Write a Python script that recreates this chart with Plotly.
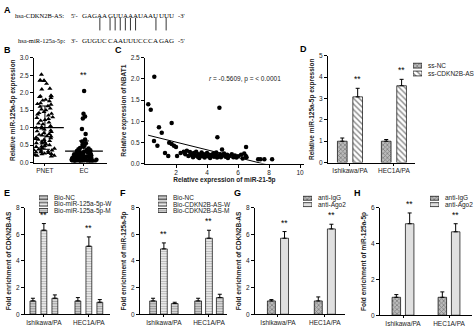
import plotly.graph_objects as go

W, H = 474, 329
FONT = "Liberation Sans"
SERIF = "Liberation Serif"

def fx(p):
    return p / W

def fy(p):
    return 1 - p / H

# ---------------- data ----------------
seq_target = "GAGAAGUUAAAUAAUUUU"
seq_mirna = "GUGUCCAAUUUCCCAGAG"
pair_idx = [3, 5, 6, 7, 8, 9, 10, 14, 16]

b_groups = ["PNET", "EC"]
b_pnet = [2.52, 2.36, 2.35, 2.35, 2.34, 2.26, 2.12, 2.10, 1.92, 1.90, 1.90, 1.88, 1.85,
          1.80, 1.78, 1.76, 1.70, 1.68, 1.66, 1.62, 1.60, 1.55, 1.52, 1.50, 1.45, 1.42,
          1.40, 1.38, 1.35, 1.30, 1.28, 1.25, 1.22, 1.20, 1.15, 1.12, 1.10, 1.05, 1.02,
          1.00, 0.98, 0.95, 0.92, 0.90, 0.88, 0.85, 0.82, 0.80, 0.78, 0.76, 0.75, 0.72,
          0.70, 0.68, 0.66, 0.65, 0.62, 0.60, 0.58, 0.56, 0.55, 0.52, 0.50, 0.48, 0.46,
          0.45, 0.42, 0.40, 0.38, 0.36, 0.35, 0.34, 0.32, 0.30, 0.30, 0.28, 0.26, 0.25,
          0.24, 0.22, 0.20, 0.20, 0.18]
b_ec = [2.05, 1.40, 1.32, 1.26, 0.96, 0.82, 0.66, 0.60, 0.55, 0.50, 0.48, 0.45, 0.42,
        0.40, 0.38, 0.36, 0.35, 0.33, 0.32, 0.30, 0.30, 0.28, 0.27, 0.26, 0.25, 0.25,
        0.24, 0.23, 0.22, 0.22, 0.21, 0.20, 0.20, 0.19, 0.18, 0.18, 0.17, 0.16, 0.16,
        0.15, 0.15, 0.14, 0.14, 0.13, 0.13, 0.12, 0.12, 0.11, 0.11, 0.10, 0.10, 0.10,
        0.09, 0.09, 0.08, 0.08, 0.07, 0.07, 0.06, 0.06, 0.05, 0.05, 0.04, 0.04, 0.03,
        0.03, 0.02, 0.02, 0.01, 0.01]
b_mean = [1.00, 0.33]
b_sd = [0.62, 0.29]

c_x = [0.21, 0.37, 0.60, 0.90, 1.08, 0.58, 0.80, 1.72, 1.56, 1.72, 1.87, 2.00, 1.29,
       1.50, 2.07, 4.80, 4.67, 6.52, 4.97, 7.30, 7.45, 7.70, 8.20,
       2.30, 2.50, 2.60, 2.70, 2.80, 2.90, 3.00, 3.10, 3.15, 3.25, 3.30, 3.40, 3.45,
       3.50, 3.60, 3.65, 3.70, 3.80, 3.85, 3.90, 4.00, 4.05, 4.15, 4.20, 4.30, 4.40,
       4.45, 4.55, 4.60, 4.65, 4.75, 4.85, 4.90, 5.00, 5.10, 5.20, 5.30, 5.35, 5.45,
       5.60, 5.70, 5.80, 5.90, 6.00, 6.20, 6.30, 6.40, 6.50, 6.55]
c_y = [1.40, 1.27, 2.05, 0.86, 0.73, 0.53, 0.42, 0.96, 0.49, 0.46, 0.42, 0.39, 0.25,
       0.18, 0.18, 1.32, 0.62, 0.39, 0.33, 0.10, 0.10, 0.10, 0.10,
       0.25, 0.28, 0.22, 0.30, 0.18, 0.27, 0.20, 0.15, 0.25, 0.19, 0.28, 0.16, 0.22,
       0.13, 0.20, 0.26, 0.17, 0.22, 0.14, 0.19, 0.25, 0.17, 0.21, 0.13, 0.19, 0.24,
       0.16, 0.20, 0.26, 0.14, 0.18, 0.22, 0.15, 0.19, 0.24, 0.16, 0.21, 0.13, 0.18,
       0.22, 0.15, 0.19, 0.14, 0.17, 0.21, 0.12, 0.24, 0.18, 0.15]
c_fit_x = [0.2, 8.0]
c_fit_y = [0.67, -0.04]
c_xticks = [2, 4, 6, 8, 10]

cells = ["Ishikawa/PA", "HEC1A/PA"]
d_nc, d_nc_err = [1.0, 1.0], [0.15, 0.08]
d_ss, d_ss_err = [3.08, 3.60], [0.40, 0.30]
e_nc, e_nc_err = [1.0, 1.0], [0.20, 0.25]
e_w, e_w_err = [6.30, 5.10], [0.50, 0.70]
e_m, e_m_err = [1.20, 0.90], [0.25, 0.20]
f_nc, f_nc_err = [1.0, 1.0], [0.20, 0.20]
f_w, f_w_err = [4.90, 5.70], [0.45, 0.60]
f_m, f_m_err = [0.80, 1.25], [0.10, 0.25]
g_igg, g_igg_err = [1.0, 1.0], [0.10, 0.30]
g_ago, g_ago_err = [5.70, 6.40], [0.50, 0.35]
h_igg, h_igg_err = [1.0, 1.0], [0.15, 0.30]
h_ago, h_ago_err = [5.10, 4.65], [0.60, 0.45]

# ---------------- styles ----------------
PAT_CHECK = dict(shape="x", fgcolor="#444", bgcolor="#bbb", size=3, solidity=0.45)
PAT_DIAG = dict(shape="\\", fgcolor="#111", bgcolor="white", size=4, solidity=0.35)
PAT_H1 = dict(shape="-", fgcolor="#444", bgcolor="#d8d8d8", size=2.5, solidity=0.45)
PAT_H2 = dict(shape="-", fgcolor="#777", bgcolor="#eeeeee", size=2.5, solidity=0.4)
PAT_H3 = dict(shape="-", fgcolor="#555", bgcolor="#e2e2e2", size=2.5, solidity=0.45)
PAT_LIGHT = dict(shape="-", fgcolor="#c8c8c8", bgcolor="#e4e4e4", size=2, solidity=0.3)

TICKF = dict(size=6.5, family=FONT, color="#222")
TITLEF = dict(size=6.5, family=FONT, color="#222", weight="bold")

fig = go.Figure()
annotations = []
shapes = []
layout = {}


def axstyle(**kw):
    d = dict(showline=True, linecolor="black", linewidth=1, ticks="outside", ticklen=3,
             tickwidth=1, tickcolor="black", showgrid=False, zeroline=False,
             tickfont=TICKF, ticklabeloverflow="allow")
    d.update(kw)
    return d


def ytitle(t, standoff=3):
    return dict(text=t, font=TITLEF, standoff=standoff)


def panel_label(letter, x, y):
    annotations.append(dict(text="<b>%s</b>" % letter, x=fx(x), y=fy(y), xref="paper",
                            yref="paper", showarrow=False, xanchor="left", yanchor="middle",
                            font=dict(size=9, family=FONT, color="black")))


def set_axes(n, xdom, ydom, xkw, ykw):
    xs = "xaxis" if n == 1 else "xaxis%d" % n
    ys = "yaxis" if n == 1 else "yaxis%d" % n
    yid = "y" if n == 1 else "y%d" % n
    xid = "x" if n == 1 else "x%d" % n
    layout[xs] = dict(domain=[fx(xdom[0]), fx(xdom[1])], anchor=yid, **xkw)
    layout[ys] = dict(domain=[fy(ydom[1]), fy(ydom[0])], anchor=xid, **ykw)
    return xid, yid


def bar_panel(n, xdom, ydom, xrange, yrange, ytick, title, series, shift, bw, stars_on):
    xid, yid = set_axes(
        n, xdom, ydom,
        axstyle(range=xrange, tickvals=[0, 1], ticktext=cells, ticklen=2),
        axstyle(range=yrange, tickvals=ytick, title=ytitle(title)))
    k = len(series)
    for j, (name, vals, errs, pat) in enumerate(series):
        c = (j - (k - 1) / 2) * shift
        fig.add_trace(go.Bar(
            x=[0, 1], y=vals, width=bw, offset=c - bw / 2, xaxis=xid, yaxis=yid,
            name=name, showlegend=False,
            marker=dict(color=pat["bgcolor"], pattern=pat, line=dict(color="black", width=0.7)),
            error_y=dict(type="data", symmetric=False, array=errs, arrayminus=[0, 0],
                         thickness=1, width=2, color="black")))
        if j == stars_on:
            for g in range(2):
                annotations.append(dict(text="**", x=g + c, y=vals[g] + errs[g], xref=xid,
                                        yref=yid, showarrow=False, yanchor="bottom", yshift=2,
                                        font=dict(size=8.5, family=FONT, color="black")))
    return xid, yid


def legend_box(n, xdom, ycenters, series):
    step = ycenters[1] - ycenters[0]
    y0 = ycenters[0] - step / 2
    y1 = ycenters[-1] + step / 2
    xid, yid = set_axes(n, xdom, (y0, y1),
                        dict(visible=False, range=[0, 1], fixedrange=True),
                        dict(visible=False, range=[len(series) - 0.5, -0.5], fixedrange=True))
    for j, (name, vals, errs, pat) in enumerate(series):
        fig.add_trace(go.Bar(
            x=[1], y=[j], base=0, orientation="h", width=0.62, xaxis=xid, yaxis=yid,
            showlegend=False, hoverinfo="skip",
            marker=dict(color=pat["bgcolor"], pattern=pat, line=dict(color="black", width=0.7))))
        annotations.append(dict(text=name, x=1, y=j, xref=xid + " domain", yref=yid,
                                xanchor="left", xshift=4, showarrow=False,
                                font=dict(size=6.5, family=FONT, color="#222")))


# ---------------- panel A ----------------
panel_label("A", 2, 6)
# letter i is centred at 82 + 5.1*(i+0.5) px
a_lo = (0 - 82) / 5.1 - 0.5
a_hi = (230 - 82) / 5.1 - 0.5
xa, ya = set_axes(8, (0, 230), (0, 40),
                  dict(visible=False, range=[a_lo, a_hi]),
                  dict(visible=False, range=[0, 1]))
for i, ch in enumerate(seq_target):
    annotations.append(dict(text=ch, x=i, y=fy(6), xref=xa, yref="paper", showarrow=False,
                            font=dict(size=7, family=SERIF, color="black")))
for i, ch in enumerate(seq_mirna):
    annotations.append(dict(text=ch, x=i, y=fy(32), xref=xa, yref="paper", showarrow=False,
                            font=dict(size=7, family=SERIF, color="black")))
for i in pair_idx:
    shapes.append(dict(type="line", xref=xa, yref="paper", x0=i, x1=i, y0=fy(14), y1=fy(27),
                       line=dict(color="black", width=0.8)))
for txt, xv, yv, anc in [("hsa-CDKN2B-AS:", -3.6, 6, "right"), ("5'-", -0.9, 6, "right"),
                         ("-3'", len(seq_target) - 0.1, 6, "left"),
                         ("hsa-miR-125a-5p:", -3.4, 32, "right"), ("3'-", -0.9, 32, "right"),
                         ("-5'", len(seq_mirna) - 0.1, 32, "left")]:
    annotations.append(dict(text=txt, x=xv, y=fy(yv), xref=xa, yref="paper", showarrow=False,
                            xanchor=anc, font=dict(size=6.5, family=SERIF, color="black")))

# ---------------- panel B ----------------
panel_label("B", 2, 47)
xb, yb = set_axes(1, (34, 107), (55, 162),
                  axstyle(range=[-0.28, 1.59], tickvals=[0, 1], ticktext=b_groups, ticklen=2),
                  axstyle(range=[0, 3], tickvals=[0, 0.5, 1, 1.5, 2, 2.5, 3], tickformat=".1f",
                          title=ytitle("Relative miR-125a-5p expression")))
for g, (vals, sym, wdt) in enumerate([(b_pnet, "triangle-up", 0.64), (b_ec, "circle", 0.72)]):
    fig.add_trace(go.Box(y=vals, x0=g, width=wdt, boxpoints="all", jitter=1, pointpos=0,
                         xaxis=xb, yaxis=yb, showlegend=False,
                         marker=dict(symbol=sym, size=4.5, color="black"),
                         line=dict(color="rgba(0,0,0,0)", width=0),
                         fillcolor="rgba(0,0,0,0)"))
fig.add_trace(go.Scatter(x=[0, 1], y=b_mean, mode="markers", xaxis=xb, yaxis=yb,
                         showlegend=False,
                         marker=dict(symbol="line-ew", size=27, color="black",
                                     line=dict(width=1.2, color="black")),
                         error_y=dict(type="data", array=b_sd, thickness=1, width=5,
                                      color="black")))
annotations.append(dict(text="**", x=1, y=2.5, xref=xb, yref=yb, showarrow=False,
                        font=dict(size=8.5, family=FONT, color="black")))

# ---------------- panel C ----------------
panel_label("C", 113, 47)
# x = 0 at 145 px, 15.5 px per unit; axis drawn a little past 10
c_xmax = 10.25
xc, yc = set_axes(2, (145, 145 + 15.5 * c_xmax), (55, 163),
                  axstyle(range=[0, c_xmax], tickmode="array", tickvals=c_xticks,
                          ticktext=[str(v) for v in c_xticks],
                          title=ytitle("Relative expression of miR-21-5p", 2)),
                  axstyle(range=[0, 2.5], tickvals=[0, 0.5, 1, 1.5, 2, 2.5], tickformat=".1f",
                          title=ytitle("Relative expression of NBAT1")))
fig.add_trace(go.Scatter(x=c_x, y=c_y, mode="markers", xaxis=xc, yaxis=yc, showlegend=False,
                         marker=dict(symbol="circle", size=4.5, color="black")))
fig.add_trace(go.Scatter(x=c_fit_x, y=c_fit_y, mode="lines", xaxis=xc, yaxis=yc,
                         showlegend=False, line=dict(color="black", width=1)))
annotations.append(dict(text="<i>r</i> = -0.5609, p = < 0.0001", x=6.45, y=1.99, xref=xc,
                        yref=yc, showarrow=False,
                        font=dict(size=6.5, family=FONT, color="#222")))

# ---------------- panel D ----------------
panel_label("D", 298, 46)
d_series = [("ss-NC", d_nc, d_nc_err, PAT_CHECK), ("ss-CDKN2B-AS", d_ss, d_ss_err, PAT_DIAG)]
bar_panel(3, (328, 415), (53, 162), [-0.5, 1.48], [0, 5], [0, 1, 2, 3, 4, 5],
          "Relative miR-125a-5p expression", d_series, 0.35, 0.22, 1)
legend_box(9, (413, 422), [63, 71], d_series)

# ---------------- panel E ----------------
panel_label("E", 2, 193)
e_series = [("Bio-NC", e_nc, e_nc_err, PAT_H1), ("Bio-miR-125a-5p-W", e_w, e_w_err, PAT_H2),
            ("Bio-miR-125a-5p-M", e_m, e_m_err, PAT_H3)]
bar_panel(4, (25, 110), (208, 317), [-0.42, 1.47], [0, 8], [0, 2, 4, 6, 8],
          "Fold enrichment of CDKN2B-AS", e_series, 0.244, 0.13, 1)
legend_box(10, (39, 48), [198, 204.5, 211], e_series)

# ---------------- panel F ----------------
panel_label("F", 118, 193)
f_series = [("Bio-NC", f_nc, f_nc_err, PAT_H1), ("Bio-CDKN2B-AS-W", f_w, f_w_err, PAT_H2),
            ("Bio-CDKN2B-AS-M", f_m, f_m_err, PAT_H3)]
bar_panel(5, (140, 227), (208, 317), [-0.53, 1.4], [0, 8], [0, 2, 4, 6, 8],
          "Fold enrichment of miR-125a-5p", f_series, 0.24, 0.15, 1)
legend_box(11, (158, 167), [198, 204.5, 211], f_series)

# ---------------- panel G ----------------
panel_label("G", 232, 193)
g_series = [("anti-IgG", g_igg, g_igg_err, PAT_CHECK), ("anti-Ago2", g_ago, g_ago_err, PAT_LIGHT)]
bar_panel(6, (255, 345), (208, 317), [-0.49, 1.43], [0, 8], [0, 2, 4, 6, 8],
          "Fold enrichment of CDKN2B-AS", g_series, 0.28, 0.17, 1)
legend_box(12, (303, 312), [198.5, 205], g_series)

# ---------------- panel H ----------------
panel_label("H", 352, 193)
h_series = [("anti-IgG", h_igg, h_igg_err, PAT_CHECK), ("anti-Ago2", h_ago, h_ago_err, PAT_LIGHT)]
bar_panel(7, (380, 472), (208, 318), [-0.5, 1.5], [0, 6], [0, 2, 4, 6],
          "Fold enrichment of miR-125a-5p", h_series, 0.29, 0.185, 1)
legend_box(13, (430, 439), [198.5, 205], h_series)

fig.update_layout(
    width=W, height=H, margin=dict(l=0, r=0, t=0, b=0),
    paper_bgcolor="white", plot_bgcolor="white", showlegend=False,
    barmode="overlay", boxmode="overlay",
    font=dict(family=FONT, size=6.5, color="#222"),
    annotations=annotations, shapes=shapes, **layout)

fig.write_html("out.html")
